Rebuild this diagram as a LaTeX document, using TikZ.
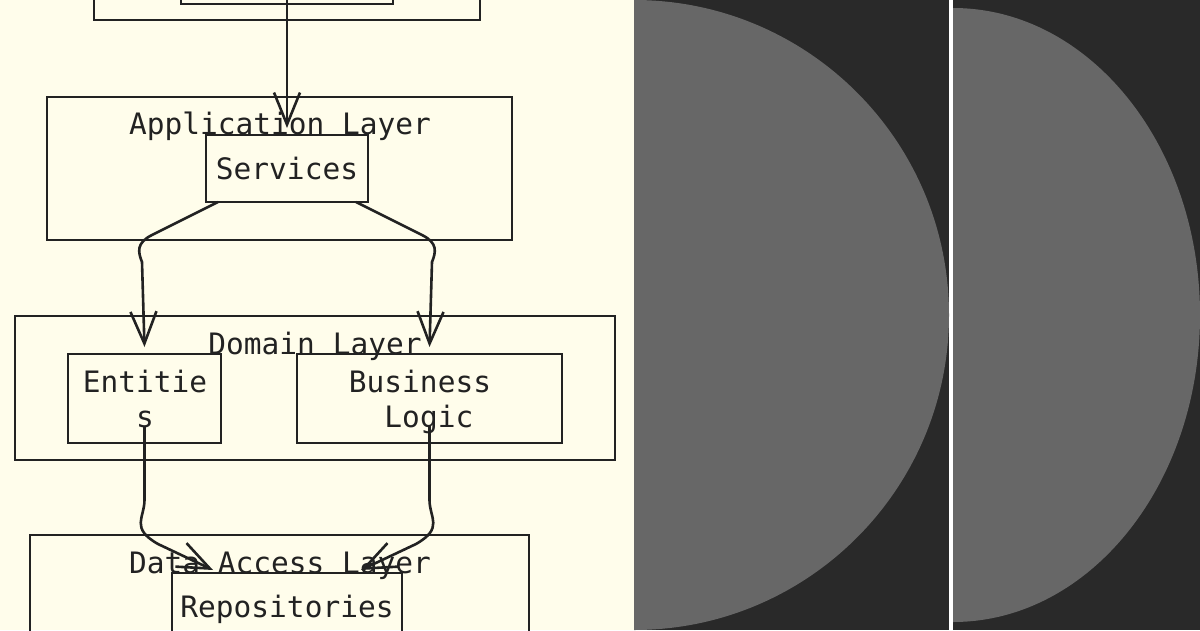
\documentclass[tikz,border=0pt]{standalone}
\usepackage{fontspec}
\setmonofont{DejaVu Sans Mono}
\usetikzlibrary{arrows.meta}
\definecolor{cream}{RGB}{255,253,235}
\definecolor{ink}{RGB}{34,34,34}
\definecolor{panel}{RGB}{41,41,41}
\definecolor{disc}{RGB}{103,103,103}
\begin{document}
\begin{tikzpicture}[x=1pt,y=-1pt,
  box/.style={draw=ink, line width=2.6pt, inner sep=0pt, outer sep=0pt},
  lbl/.style={anchor=base, inner sep=0pt, text=ink, font=\ttfamily\fontsize{29.5}{35.4}\selectfont},
  arr/.style={draw=ink, line width=2.6pt, -{Straight Barb[length=32pt,width=26pt]}}]
\useasboundingbox (0,0) rectangle (1200,630);
\clip (0,0) rectangle (1200,630);
% backgrounds
\fill[cream] (0,0) rectangle (634,630);
\fill[panel] (634,0) rectangle (1200,630);
\fill[white] (949,0) rectangle (953,630);
\begin{scope}
  \clip (634,0) rectangle (949,630);
  \fill[disc] (634,315) ellipse [x radius=315pt, y radius=315pt];
\end{scope}
\begin{scope}
  \clip (953,0) rectangle (1200,630);
  \fill[disc] (953,315) ellipse [x radius=247pt, y radius=307pt];
\end{scope}
% boxes
\node[box, minimum width=386pt, minimum height=100pt] (presc) at (287,-30) {};
\node[box, minimum width=212pt, minimum height=64pt] (pres) at (287,-28) {};
\node[box, minimum width=465pt, minimum height=143pt] (app) at (279.5,168.5) {};
\node[box, minimum width=162pt, minimum height=67pt] (svc) at (287,168.5) {};
\node[box, minimum width=600pt, minimum height=144pt] (dom) at (315,388) {};
\node[box, minimum width=153pt, minimum height=89pt] (ent) at (144.5,398.5) {};
\node[box, minimum width=265pt, minimum height=89pt] (biz) at (429.5,398.5) {};
\node[box, minimum width=499pt, minimum height=200pt] (dal) at (279.5,635) {};
\node[box, minimum width=230pt, minimum height=127pt] (repo) at (287,636.5) {};
% labels
\node[lbl] (appt) at (280,134) {Application Layer};
\node[lbl] (svct) at (287,179) {Services};
\node[lbl] (domt) at (315,354) {Domain Layer};
\node[lbl] (entt1) at (145,392) {Entitie};
\node[lbl] (entt2) at (145,427) {s};
\node[lbl] (bizt1) at (420,392) {Business};
\node[lbl] (bizt2) at (420,427) {\hphantom{L}Logic};
\node[lbl] (dalt) at (280,573) {Data Access Layer};
\node[lbl] (repot) at (287,617) {Repositories};
% connectors
\draw[arr] (pres.center) -- ([yshift=7pt]svc.north);
\draw[arr] ([xshift=12pt]svc.south west) -- (152,235) .. controls (136,243) and (138,252) .. (142,262) -- ([yshift=7pt]ent.north);
\draw[arr] ([xshift=-12pt]svc.south east) -- (422,235) .. controls (438,243) and (436,252) .. (432,262) -- ([yshift=7pt]biz.north);
\draw[arr] ([yshift=-27.5pt]ent.center) -- (144.5,500) .. controls (144.5,518) and (130,528) .. (158,544) -- ([xshift=-74pt,yshift=3pt]repo.north);
\draw[arr] ([yshift=-27.5pt]biz.center) -- (429.5,500) .. controls (429.5,518) and (444,528) .. (416,544) -- ([xshift=74pt,yshift=3pt]repo.north);
\end{tikzpicture}
\end{document}
